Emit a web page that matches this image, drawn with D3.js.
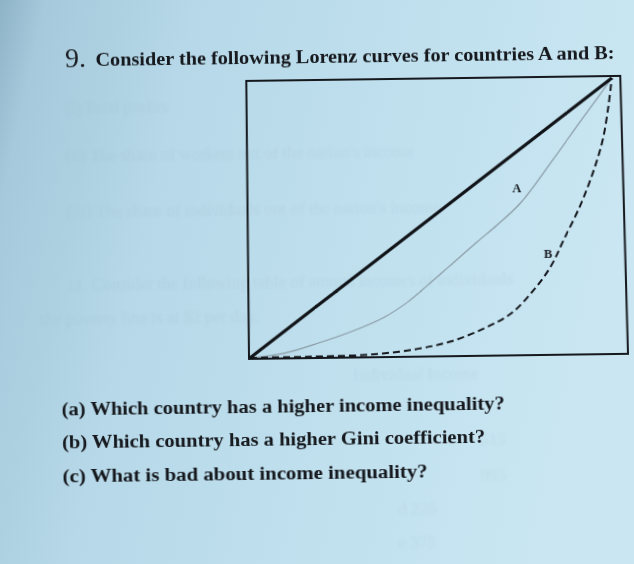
<!DOCTYPE html>
<html>
<head>
<meta charset="utf-8">
<script src="https://cdn.jsdelivr.net/npm/d3@7"></script>
<style>
  html, body { margin: 0; padding: 0; background: #b9dbea; }
  svg { display: block; }
</style>
</head>
<body>
<div id="chart"></div>
<script>
// Lorenz curves (share of population -> share of income)
let equality = [[0, 0], [1, 1]];
let curveA = [[0, 0], [0.093, 0.015], [0.186, 0.05], [0.277, 0.09], [0.367, 0.14], [0.433, 0.195],
              [0.488, 0.255], [0.55, 0.325], [0.625, 0.41], [0.68, 0.47], [0.745, 0.549],
              [0.835, 0.704], [0.909, 0.838], [0.964, 0.935], [1, 1]];
let curveB = [[0, 0], [0.1, 0.001], [0.2, 0.002], [0.34, 0.007], [0.46, 0.025], [0.55, 0.05],
              [0.64, 0.095], [0.717, 0.15], [0.78, 0.235], [0.827, 0.32], [0.863, 0.415],
              [0.909, 0.538], [0.945, 0.657], [0.973, 0.776], [0.99, 0.9], [1, 1]];
let curveLabels = [["A", 0.736, 0.605], ["B", 0.819, 0.367]];

let questionNo = "9.";
let title = "Consider the following Lorenz curves for countries A and B:";
let questions = ["(a) Which country has a higher income inequality?",
                 "(b) Which country has a higher Gini coefficient?",
                 "(c) What is bad about income inequality?"];
// faint print showing through from the other side of the sheet
let ghostLines = [["(i) Total profits", 67, 110], ["(ii) The share of workers out of the nation's income", 67, 158],
                  ["(iii) The share of individuals out of the nation's income", 67, 214],
                  ["11. Consider the following table of annual incomes of individuals", 67, 287],
                  ["the poverty line is at $2 per day.", 40, 321], ["Individual    Income", 352, 381],
                  ["515", 478, 447], ["995", 478, 483], ["d        226", 395, 516], ["e        375", 395, 549]];

let W = 634, H = 564;
let serif = "'Liberation Serif', 'DejaVu Serif', serif";

let svg = d3.select("#chart").append("svg")
    .attr("width", W)
    .attr("height", H);

let defs = svg.append("defs");
let grad = defs.append("linearGradient").attr("id", "paper")
    .attr("x1", "0").attr("y1", "0").attr("x2", "1").attr("y2", "0.2");
[["0%", "#8fb3c6"], ["7%", "#a6cadc"], ["30%", "#b6d8e8"], ["65%", "#c0e0ee"], ["100%", "#c9e6f2"]]
    .forEach(s => grad.append("stop").attr("offset", s[0]).attr("stop-color", s[1]));
defs.append("filter").attr("id", "blur")
    .append("feGaussianBlur").attr("stdDeviation", 1.1);

svg.append("rect")
    .attr("width", W)
    .attr("height", H)
    .attr("fill", "url(#paper)");

// the photo is taken slightly tilted
let page = svg.append("g").attr("transform", "rotate(-0.77 317 282)");

page.append("g")
    .attr("filter", "url(#blur)")
    .selectAll("text")
    .data(ghostLines)
    .enter().append("text")
    .attr("x", d => d[1])
    .attr("y", d => d[2])
    .attr("font-family", serif)
    .attr("font-size", 17)
    .attr("fill", "#7d9cab")
    .attr("opacity", 0.1)
    .text(d => d[0]);

page.append("text")
    .attr("x", 68)
    .attr("y", 63.5)
    .attr("font-family", serif)
    .attr("font-size", 28)
    .attr("fill", "#1a1d22")
    .text(questionNo);

page.append("text")
    .attr("x", 98.5)
    .attr("y", 62.8)
    .attr("font-family", serif)
    .attr("font-weight", "bold")
    .attr("font-size", 18)
    .attr("fill", "#15181d")
    .attr("textLength", 519)
    .attr("lengthAdjust", "spacingAndGlyphs")
    .text(title);

let qWidths = [443, 423, 365];
let qBase = [412.4, 445, 478.5];
page.selectAll("text.q")
    .data(questions)
    .enter().append("text")
    .attr("class", "q")
    .attr("x", 60)
    .attr("y", (d, i) => qBase[i])
    .attr("font-family", serif)
    .attr("font-weight", "bold")
    .attr("font-size", 18)
    .attr("fill", "#15181d")
    .attr("textLength", (d, i) => qWidths[i])
    .attr("lengthAdjust", "spacingAndGlyphs")
    .text(d => d);

// plot
let x = d3.scaleLinear().domain([0, 1]).range([249, 614.5]);
let y = d3.scaleLinear().domain([0, 1]).range([357, 82]);
let line = d3.line().x(d => x(d[0])).y(d => y(d[1])).curve(d3.curveCatmullRom);

let plot = page.append("g");

plot.append("path")
    .attr("d", "M249,80L623,80L627,358L248,358Z")
    .attr("fill", "none")
    .attr("stroke", "#15181d")
    .attr("stroke-width", 2);

plot.append("path")
    .datum(curveA)
    .attr("d", line)
    .attr("fill", "none")
    .attr("stroke", "#8a9ca6")
    .attr("stroke-width", 1.2);

plot.append("path")
    .datum(curveB)
    .attr("d", line)
    .attr("fill", "none")
    .attr("stroke", "#15181d")
    .attr("stroke-width", 2)
    .attr("stroke-dasharray", "7,4");

plot.append("path")
    .datum(equality)
    .attr("d", d3.line().x(d => x(d[0])).y(d => y(d[1])))
    .attr("fill", "none")
    .attr("stroke", "#101317")
    .attr("stroke-width", 3.2);

plot.selectAll("text.lbl")
    .data(curveLabels)
    .enter().append("text")
    .attr("class", "lbl")
    .attr("x", d => x(d[1]))
    .attr("y", d => y(d[2]))
    .attr("dy", "0.36em")
    .attr("text-anchor", "middle")
    .attr("font-family", serif)
    .attr("font-weight", "bold")
    .attr("font-size", 12.5)
    .attr("fill", "#15181d")
    .text(d => d[0]);
</script>
</body>
</html>
